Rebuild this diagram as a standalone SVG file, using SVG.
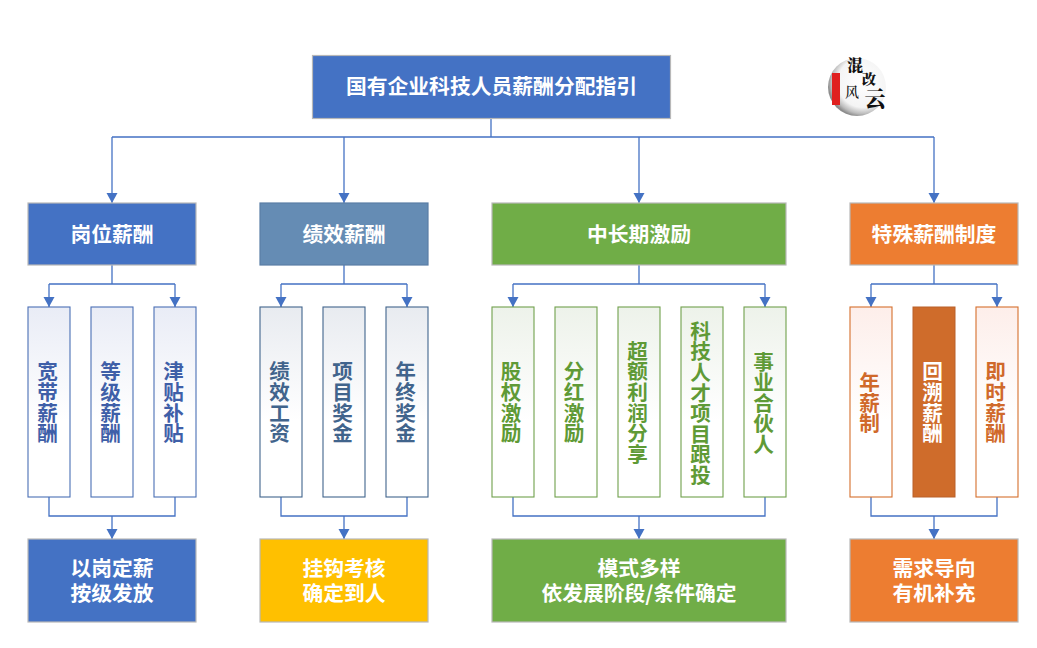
<svg xmlns="http://www.w3.org/2000/svg" width="1037" height="648" viewBox="0 0 1037 648">
<style>
text{font-family:"Noto Sans CJK SC","Liberation Sans",sans-serif;font-weight:700;text-anchor:middle}
.h{font-size:20.8px;fill:#fff}
.v{font-size:20.6px;writing-mode:vertical-rl}
.c{fill:none;stroke:#4472c4;stroke-width:1.3}
.head{stroke:#b8b8b8;stroke-width:1.2}
.blue{fill:#4472c4}.steel{fill:#658cb4;stroke:#5a7ea6}.green{fill:#70ad47}.orange{fill:#ed7d31}.gold{fill:#ffc000}
.sb{fill:url(#gb);stroke:#4a6fb5;stroke-width:1.1}.tb{fill:#3f5fa8}
.ss{fill:url(#gs);stroke:#41648c;stroke-width:1.1}.ts{fill:#41648c}
.sg{fill:url(#gg);stroke:#70a04c;stroke-width:1.1}.tg{fill:#5f9a36}
.so{fill:url(#go);stroke:#d56f2c;stroke-width:1.1}.to{fill:#d0692a}
.ink{fill:#111;font-weight:900}
</style>
<defs>
<linearGradient id="gb" x1="0" y1="0" x2="0" y2="1"><stop offset="0" stop-color="#e9ecf6"/><stop offset=".6" stop-color="#fff"/></linearGradient>
<linearGradient id="gs" x1="0" y1="0" x2="0" y2="1"><stop offset="0" stop-color="#e8ebf0"/><stop offset=".6" stop-color="#fff"/></linearGradient>
<linearGradient id="gg" x1="0" y1="0" x2="0" y2="1"><stop offset="0" stop-color="#edf2ea"/><stop offset=".6" stop-color="#fff"/></linearGradient>
<linearGradient id="go" x1="0" y1="0" x2="0" y2="1"><stop offset="0" stop-color="#fdeeea"/><stop offset=".6" stop-color="#fff"/></linearGradient>
<radialGradient id="ink" cx=".6" cy=".42" r=".6"><stop offset="0" stop-color="#fff"/><stop offset=".72" stop-color="#f4f4f4"/><stop offset=".9" stop-color="#bdbdbd"/><stop offset="1" stop-color="#8c8c8c"/></radialGradient>
<marker id="a" markerUnits="userSpaceOnUse" markerWidth="11" markerHeight="12" refX="10" refY="6" orient="auto"><path d="M0 .5L10 6L0 11.500Z" fill="#4472c4"/></marker>
</defs>
<rect width="1037" height="648" fill="#fff"/>

<g id="connectors">
<path class="c" d="M491 118V137M112 137H934"/>
<path class="c" marker-end="url(#a)" d="M112 137V203"/><path class="c" marker-end="url(#a)" d="M344 137V203"/><path class="c" marker-end="url(#a)" d="M639 137V203"/><path class="c" marker-end="url(#a)" d="M934 137V203"/>
<path class="c" d="M112 265V284M49 284H175"/><path class="c" marker-end="url(#a)" d="M49 284V307"/><path class="c" marker-end="url(#a)" d="M175 284V307"/>
<path class="c" d="M344 265V284M281 284H407"/><path class="c" marker-end="url(#a)" d="M281 284V307"/><path class="c" marker-end="url(#a)" d="M407 284V307"/>
<path class="c" d="M639 265V284M513 284H765"/><path class="c" marker-end="url(#a)" d="M513 284V307"/><path class="c" marker-end="url(#a)" d="M765 284V307"/>
<path class="c" d="M934 265V284M871 284H997"/><path class="c" marker-end="url(#a)" d="M871 284V307"/><path class="c" marker-end="url(#a)" d="M997 284V307"/>
<path class="c" d="M49 497V516H175V497"/><path class="c" marker-end="url(#a)" d="M112 516V539"/>
<path class="c" d="M281 497V516H407V497"/><path class="c" marker-end="url(#a)" d="M344 516V539"/>
<path class="c" d="M513 497V516H765V497"/><path class="c" marker-end="url(#a)" d="M639 516V539"/>
<path class="c" d="M871 497V516H997V497"/><path class="c" marker-end="url(#a)" d="M934 516V539"/>
</g>

<g id="root"><rect class="head blue" x="312.500" y="55.500" width="358" height="63"/><text class="h" x="491.500" y="93.500">国有企业科技人员薪酬分配指引</text></g>

<g id="logo">
<circle cx="857" cy="87" r="29" fill="url(#ink)"/>
<rect x="832" y="73" width="8" height="32" fill="#e0201f"/>
<text class="ink" style="font-size:16px;font-family:'Noto Serif CJK SC','Noto Sans CJK SC',sans-serif"><tspan x="855" y="71">混</tspan><tspan x="869" y="84" style="font-size:14px">改</tspan><tspan x="852" y="97" style="font-size:14px;font-weight:500">风</tspan><tspan x="875" y="106" style="font-size:21px">云</tspan></text>
</g>

<g id="h1"><rect class="head blue" x="28" y="203" width="168" height="62"/><text class="h" x="112" y="242">岗位薪酬</text></g>
<g id="h2"><rect class="head steel" x="260" y="203" width="168" height="62"/><text class="h" x="344" y="242">绩效薪酬</text></g>
<g id="h3"><rect class="head green" x="492" y="203" width="294" height="62"/><text class="h" x="639" y="241.500">中长期激励</text></g>
<g id="h4"><rect class="head orange" x="850" y="203" width="168" height="62"/><text class="h" x="934" y="242">特殊薪酬制度</text></g>

<g id="n1"><rect class="sb" x="28" y="307" width="42" height="190"/><text class="v tb" x="47.500" y="402.500">宽带薪酬</text></g>
<g id="n2"><rect class="sb" x="91" y="307" width="42" height="190"/><text class="v tb" x="110.500" y="402.500">等级薪酬</text></g>
<g id="n3"><rect class="sb" x="154" y="307" width="42" height="190"/><text class="v tb" x="173.500" y="402.500">津贴补贴</text></g>
<g id="n4"><rect class="ss" x="260" y="307" width="42" height="190"/><text class="v ts" x="279.500" y="402.500">绩效工资</text></g>
<g id="n5"><rect class="ss" x="323" y="307" width="42" height="190"/><text class="v ts" x="342.500" y="402.500">项目奖金</text></g>
<g id="n6"><rect class="ss" x="386" y="307" width="42" height="190"/><text class="v ts" x="405.500" y="402.500">年终奖金</text></g>
<g id="n7"><rect class="sg" x="492" y="307" width="42" height="190"/><text class="v tg" x="511" y="402.500">股权激励</text></g>
<g id="n8"><rect class="sg" x="555" y="307" width="42" height="190"/><text class="v tg" x="574" y="402.500">分红激励</text></g>
<g id="n9"><rect class="sg" x="618" y="307" width="42" height="190"/><text class="v tg" x="637.500" y="402.500">超额利润分享</text></g>
<g id="n10"><rect class="sg" x="681" y="307" width="42" height="190"/><text class="v tg" x="700.500" y="403">科技人才项目跟投</text></g>
<g id="n11"><rect class="sg" x="744" y="307" width="42" height="190"/><text class="v tg" x="763.500" y="403">事业合伙人</text></g>
<g id="n12"><rect class="so" x="850" y="307" width="42" height="190"/><text class="v to" x="869.500" y="403">年薪制</text></g>
<g id="n13"><rect x="913" y="307" width="42" height="190" fill="#cf6c2b" stroke="#b9602a"/><text class="v" x="932.500" y="402.500" fill="#fff">回溯薪酬</text></g>
<g id="n14"><rect class="so" x="976" y="307" width="42" height="190"/><text class="v to" x="995.500" y="402.500">即时薪酬</text></g>

<g id="b1"><rect class="head blue" x="28" y="539" width="168" height="83"/><text class="h"><tspan x="112" y="576">以岗定薪</tspan><tspan x="112" y="600.500">按级发放</tspan></text></g>
<g id="b2"><rect class="head gold" x="260" y="539" width="168" height="83"/><text class="h"><tspan x="344" y="576">挂钩考核</tspan><tspan x="344" y="600.500">确定到人</tspan></text></g>
<g id="b3"><rect class="head green" x="492" y="539" width="294" height="83"/><text class="h"><tspan x="639" y="576">模式多样</tspan><tspan x="639" y="600.500">依发展阶段/条件确定</tspan></text></g>
<g id="b4"><rect class="head orange" x="850" y="539" width="168" height="83"/><text class="h"><tspan x="934" y="576">需求导向</tspan><tspan x="934" y="600.500">有机补充</tspan></text></g>
</svg>
